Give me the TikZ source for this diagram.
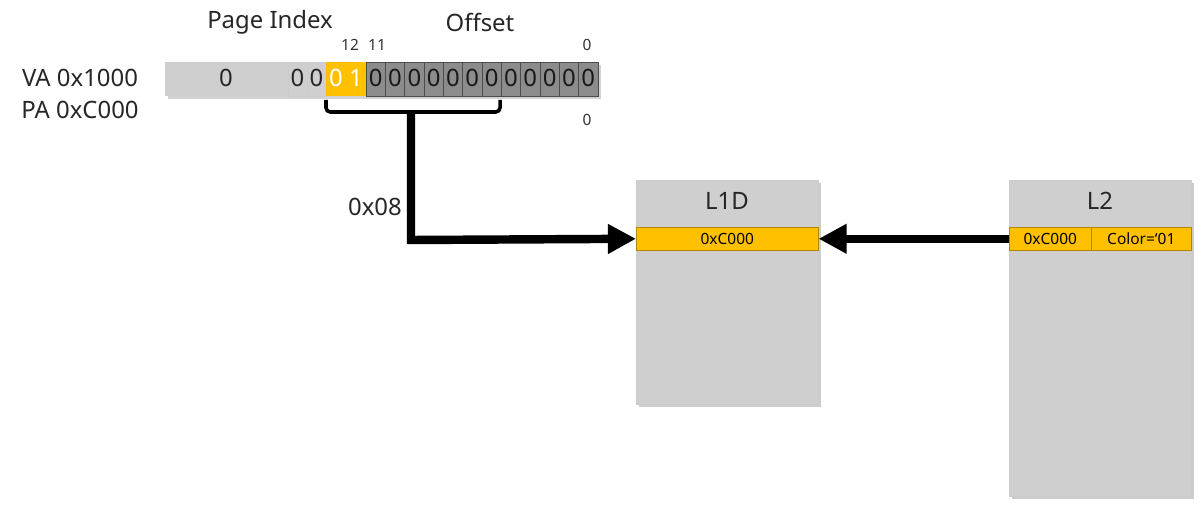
\documentclass[tikz,border=0pt]{standalone}
\usepackage{fontspec}
\setmainfont{Noto Sans}
\usetikzlibrary{shadows,arrows.meta}
\definecolor{gold}{HTML}{FFC000}
\definecolor{lg}{HTML}{CFCFCF}
\definecolor{dg}{HTML}{8C8C8C}
\begin{document}
\begin{tikzpicture}[x=0.025cm,y=-0.025cm,
  cell/.style={draw=#1!70!black,line width=0.4pt},
  lbl/.style={font=\fontsize{17}{20}\selectfont,text=black!85},
  sm/.style={font=\fontsize{11}{13}\selectfont,text=black!80},
  box/.style={fill=lg,draw=black!20,drop shadow={shadow xshift=2pt,shadow yshift=-2pt,opacity=0.4}},
  thick arrow/.style={line width=6pt,-{Triangle[length=20pt,width=20pt]}}]
\useasboundingbox (0,0) rectangle (1200,505);
\node[lbl] (va) at (80,78) {VA 0x1000};
\node[lbl] (pa) at (80,110) {PA 0xC000};
\node[lbl] (pi) at (270,22) {Page Index};
\node[lbl] (off) at (480,22) {Offset};
\node[sm] (b12) at (350,45) {12};
\node[sm] (b11) at (377,45) {11};
\node[sm] (b0) at (587,45) {0};
\node[sm] (b0b) at (587,120) {0};
% bar
\fill[black!35,opacity=0.5] (168,65) rectangle (601,99);
\fill[lg] (165,62) rectangle (288,96);
\node[lbl] (hi) at (226,78) {0};
\foreach \x in {288,307}{
  \draw[fill=lg,draw=black!20] (\x,62) rectangle ++(19,34);
  \node[lbl] at (\x+9.5,78) {0};}
\foreach \x in {326,346}{\fill[gold] (\x,62) rectangle ++(20,34);}
\node[lbl,text=white] (y0) at (336,78) {0};
\node[lbl,text=white] (y1) at (356,78) {1};
\foreach \i in {0,...,11}{
  \draw[fill=dg,draw=black!70] (366+\i*19.33,62) rectangle ++(19.33,34);
  \node[lbl,text=black!90] at (366+\i*19.33+9.67,78) {0};}
% brace
\draw[line width=2.5pt,rounded corners=3pt] (326,100) -- (326,112) -- (500,112) -- (500,100);
\coordinate (st) at (411,112);
% boxes
\node[box,minimum width=182*0.025cm,minimum height=224*0.025cm,anchor=north west,inner sep=0] (l1) at (636,180) {};
\node[lbl] (l1t) at (727,201) {L1D};
\node[fill=gold,draw=gold!70!black,minimum width=182*0.025cm,minimum height=23*0.025cm,anchor=north west,inner sep=0,font=\fontsize{11}{13}\selectfont] (l1r) at (636,227) {0xC000};
\node[box,minimum width=182*0.025cm,minimum height=316*0.025cm,anchor=north west,inner sep=0] (l2) at (1009,180) {};
\node[lbl] (l2t) at (1100,201) {L2};
\node[fill=gold,draw=gold!70!black,minimum width=82*0.025cm,minimum height=23*0.025cm,anchor=north west,inner sep=0,font=\fontsize{11}{13}\selectfont] (l2a) at (1009,227) {0xC000};
\node[fill=gold,draw=gold!70!black,minimum width=100*0.025cm,minimum height=23*0.025cm,anchor=north west,inner sep=0,font=\fontsize{11}{13}\selectfont] (l2b) at (1091,227) {Color=‘01};
% arrows
\draw[thick arrow] (st) -- (411,240) -- (l1r.west);
\draw[thick arrow] (l2a.west) -- (l1r.east);
\node[lbl] (ox) at (375,207) {0x08};
\end{tikzpicture}
\end{document}
